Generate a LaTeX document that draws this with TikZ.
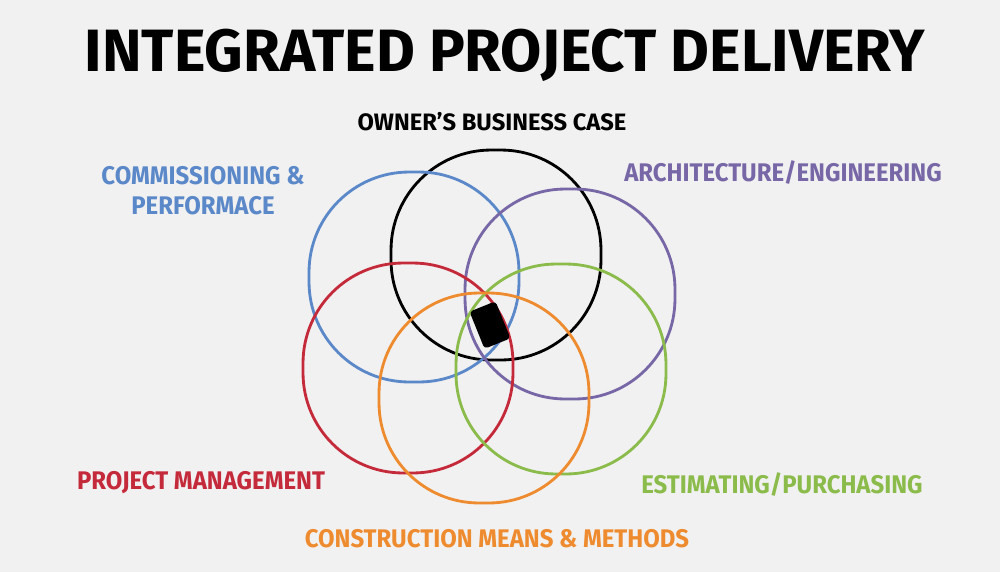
\documentclass[tikz,border=0pt]{standalone}
\usepackage{fontspec}
\usepackage{tikz}
\usetikzlibrary{positioning}
\newfontfamily\handfont[FakeStretch=0.94]{Fira Sans}
\newfontfamily\titlefont{Fira Sans}
\definecolor{paper}{HTML}{F1F1F1}
\definecolor{cblue}{HTML}{5A88C8}
\definecolor{cpurple}{HTML}{7767A6}
\definecolor{cred}{HTML}{C42A3A}
\definecolor{corange}{HTML}{EE8B2F}
\definecolor{cgreen}{HTML}{8BBB4A}

\begin{document}
\begin{tikzpicture}[x=0.02cm, y=-0.02cm]

  \tikzstyle{ring}=[rectangle, rounded corners=57pt, minimum size = 42mm, line width = 1.6pt, inner sep = 0pt]
  \tikzstyle{label}=[font=\handfont\bfseries\fontsize{14.5}{17}\selectfont, align=center, inner sep = 0pt]

  \fill[paper] (0,0) rectangle (1000,572);
  \useasboundingbox (0,0) rectangle (1000,572);

  \node[font=\titlefont\bfseries\fontsize{34}{38}\selectfont, inner sep = 0pt] (title) at (505,55) {INTEGRATED PROJECT DELIVERY};

  % the six rings
  \node[ring, draw = black] (owner) at (496,255) {};
  \node[ring, draw = cblue] (commissioning) at (414,277) {};
  \node[ring, draw = cpurple] (architecture) at (570,294) {};
  \node[ring, draw = cred] (management) at (408,368) {};
  \node[ring, draw = cgreen] (estimating) at (561,369) {};
  \node[ring, draw = corange] (construction) at (484,398) {};

  \node[fill = black, rounded corners = 2pt, minimum width = 5.6mm, minimum height = 8mm, rotate = 22] (marker) at (490,325) {};

  \node[label, text = black, font=\titlefont\bfseries\fontsize{13.5}{16}\selectfont] (ownerlabel) at (492,122) {OWNER’S BUSINESS CASE};
  \node[label, text = cblue] (commlabel) at (203,191) {COMMISSIONING \&\\PERFORMACE};
  \node[label, text = cpurple] (archlabel) at (783,173) {ARCHITECTURE/ENGINEERING};
  \node[label, text = cred] (pmlabel) at (201,483) {PROJECT MANAGEMENT};
  \node[label, text = cgreen] (estlabel) at (782,485) {ESTIMATING/PURCHASING};
  \node[label, text = corange] (constlabel) at (497,539) {CONSTRUCTION MEANS \& METHODS};

\end{tikzpicture}
\end{document}
